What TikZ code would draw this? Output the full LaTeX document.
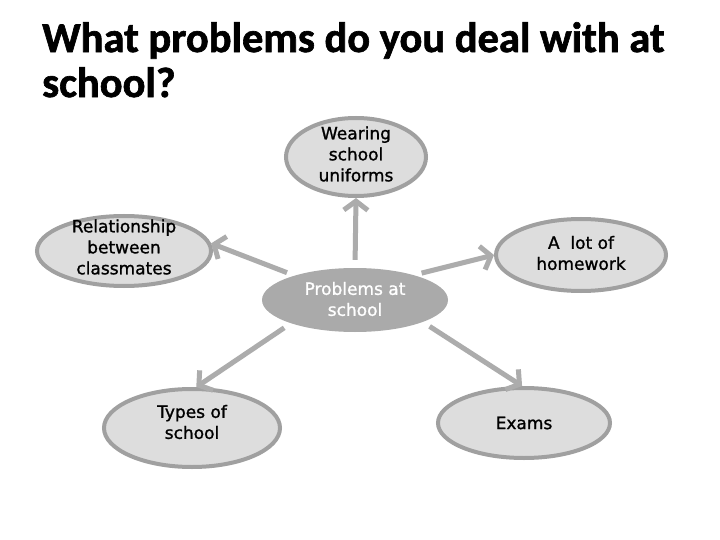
\documentclass[tikz,border=0pt]{standalone}
\usepackage{fontspec}
\setmainfont{DejaVu Sans}
\newfontfamily\nodefont[FakeBold=1.2]{DejaVu Sans}
\newfontfamily\titlefont[BoldFeatures={FakeBold=1.5}]{Carlito}
\usetikzlibrary{shapes.geometric,arrows.meta}
\definecolor{bubblefill}{RGB}{221,221,221}
\definecolor{bubbleline}{RGB}{160,160,160}
\definecolor{hubfill}{RGB}{170,170,170}
\definecolor{arrowgray}{RGB}{172,172,172}
\tikzset{
  bubble/.style={ellipse, draw=bubbleline, line width=4pt, fill=bubblefill, inner sep=0pt},
  hub/.style={ellipse, fill=hubfill, inner sep=0pt},
  txt/.style={align=center, font=\nodefont\fontsize{17}{21}\selectfont, inner sep=0pt},
  link/.style={draw=arrowgray, line width=5pt, -{Straight Barb[length=9pt,width=24pt]}, shorten <=8pt}
}
\begin{document}
\begin{tikzpicture}[x=1pt,y=-1pt]
      \fill[white] (0,0) rectangle (720,540);
      \useasboundingbox (0,0) rectangle (720,540);
      \node[anchor=north west, align=left, inner sep=0pt,
        font=\titlefont\bfseries\fontsize{42.5}{45}\selectfont] (title) at (42,22)
        {What problems do you deal with at\\school?};
      \draw
        (355,300) node[hub, minimum width=186pt, minimum height=64pt] (hub){}
        (356,157) node[bubble, minimum width=140pt, minimum height=78pt] (wear){}
        (124,251) node[bubble, minimum width=174pt, minimum height=70pt] (rel){}
        (581,255) node[bubble, minimum width=170pt, minimum height=72pt] (hw){}
        (192,428) node[bubble, minimum width=176pt, minimum height=78pt] (types){}
        (524,423) node[bubble, minimum width=172pt, minimum height=70pt] (exams){};
      \draw
        (355,299) node[txt, text=white] (hub-t){Problems at\\school}
        (356,154) node[txt] (wear-t){Wearing\\school\\uniforms}
        (124,247) node[txt] (rel-t){Relationship\\between\\classmates}
        (581,253) node[txt] (hw-t){A\ \ lot of\\homework}
        (192,422) node[txt] (types-t){Types of\\school}
        (524,423) node[txt] (exams-t){Exams};
      \begin{scope}[link]
        \draw (hub.90) to (wear.south);
        \draw (hub.158) to (rel.5);
        \draw (hub.23) to (hw.west);
        \draw (hub.200) to (types.84);
        \draw (hub.-18) to (exams.93);
      \end{scope}
    \end{tikzpicture}
\end{document}
